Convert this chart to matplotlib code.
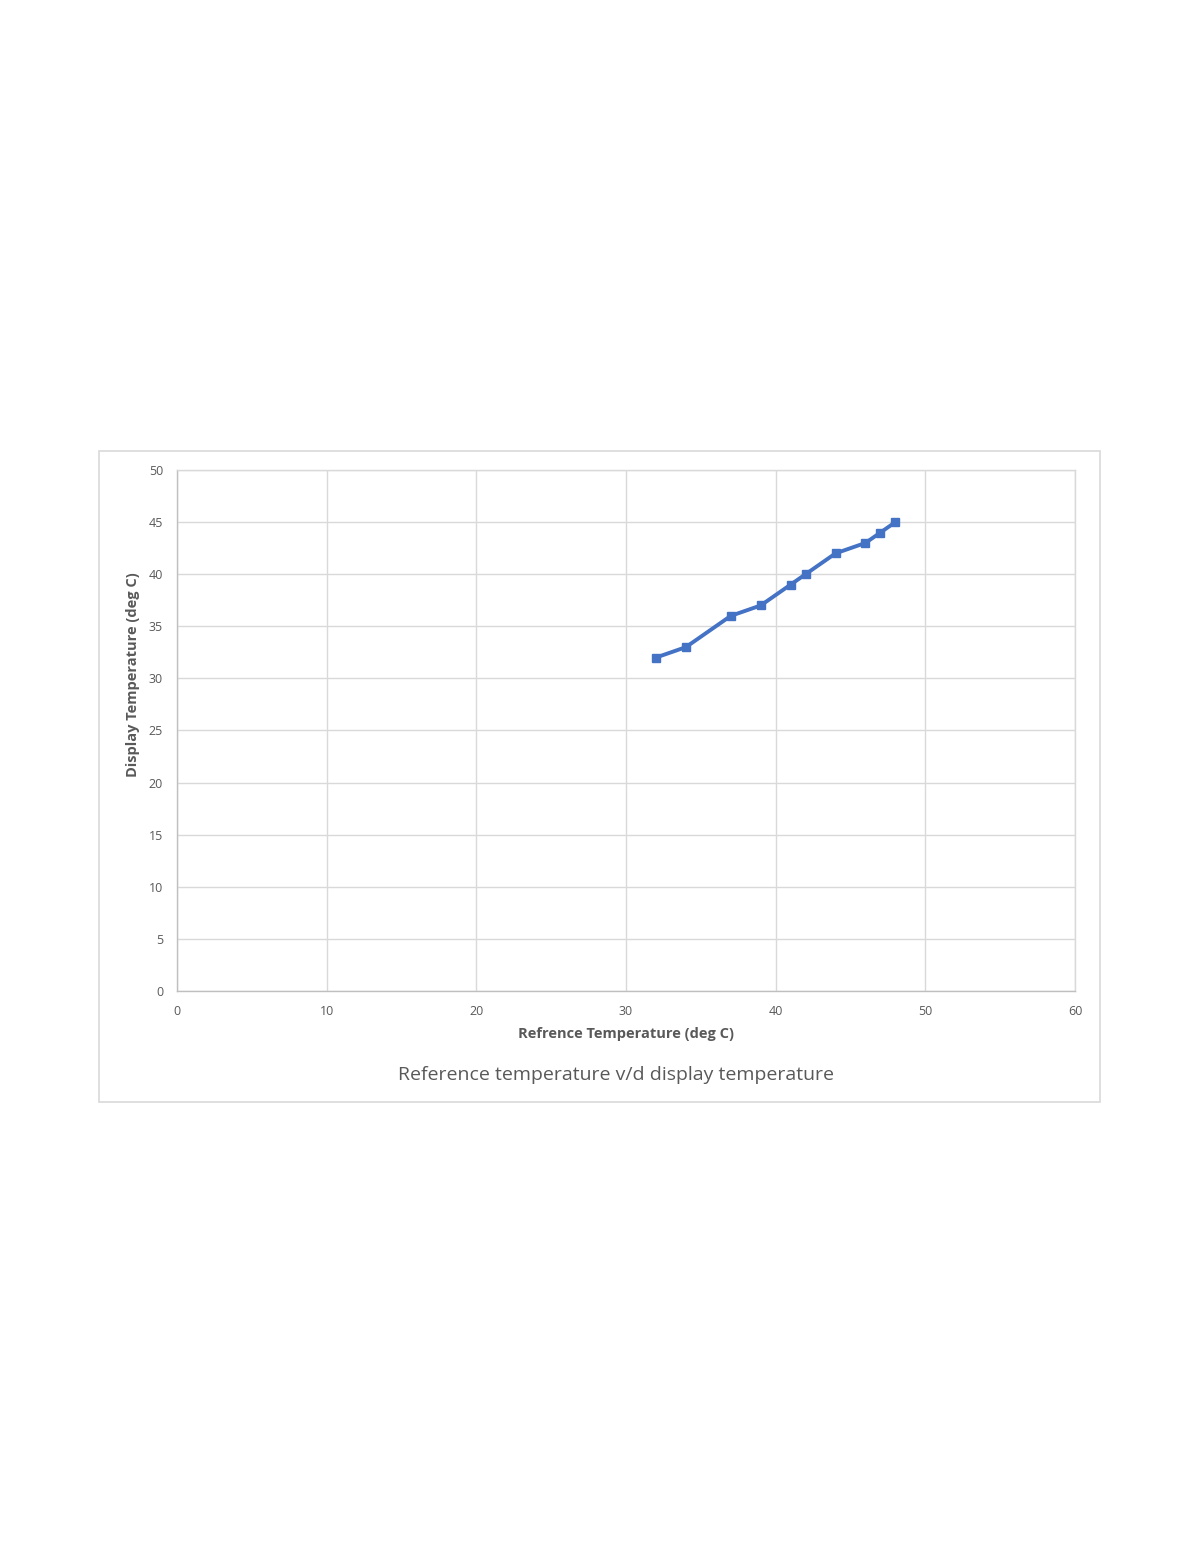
import matplotlib
matplotlib.use("Agg")
import matplotlib.pyplot as plt
from matplotlib.patches import Rectangle

ref_temp = [32, 34, 37, 39, 41, 42, 44, 46, 47, 48]
display_temp = [32, 33, 36, 37, 39, 40, 42, 43, 44, 45]
x_ticks = [0, 10, 20, 30, 40, 50, 60]
y_ticks = [0, 5, 10, 15, 20, 25, 30, 35, 40, 45, 50]

plt.rcParams['font.family'] = ['Open Sans', 'DejaVu Sans']
W, H = 1200, 1553
fig = plt.figure(figsize=(W / 100, H / 100), dpi=100)
fig.patch.set_facecolor('white')

# chart frame
fig.patches.append(Rectangle((99 / W, 1 - 1102 / H), (1100 - 99) / W, (1102 - 451) / H,
                             transform=fig.transFigure, fill=False,
                             edgecolor='#d9d9d9', linewidth=1.2))

left, right, top, bottom = 177, 1075, 470, 991
ax = fig.add_axes([left / W, 1 - bottom / H, (right - left) / W, (bottom - top) / H])
ax.plot(ref_temp, display_temp, color='#4472C4', linewidth=2.8,
        marker='s', markersize=6, markerfacecolor='#4472C4', markeredgecolor='#4472C4',
        zorder=3)
ax.set_xlim(0, 60)
ax.set_ylim(0, 50)
ax.set_xticks(x_ticks)
ax.set_yticks(y_ticks)
ax.grid(True, color='#d9d9d9', linewidth=1.0)
ax.set_axisbelow(True)
for s in ['top', 'right']:
    ax.spines[s].set_color('#d9d9d9')
    ax.spines[s].set_linewidth(1.0)
for s in ['left', 'bottom']:
    ax.spines[s].set_color('#bfbfbf')
    ax.spines[s].set_linewidth(1.0)
ax.tick_params(length=0, labelsize=9, labelcolor='#595959', pad=10)
ax.set_xlabel('Refrence Temperature (deg C)', fontsize=10.5, fontweight='bold',
              color='#595959')
ax.xaxis.set_label_coords(0.5, -0.069)
ax.set_ylabel('Display Temperature (deg C)', fontsize=10.5, fontweight='bold',
              color='#595959')
ax.yaxis.set_label_coords(-0.041, 0.607)
fig.text(616 / W, 1 - 1075 / H, 'Reference temperature v/d display temperature',
         ha='center', va='center', fontsize=14, color='#595959')

fig.savefig('out.png', dpi=100, facecolor='white')
